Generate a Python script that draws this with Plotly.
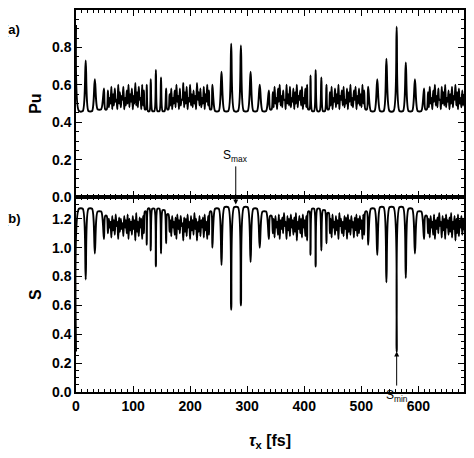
import plotly.graph_objects as go
from plotly.subplots import make_subplots

# revival peaks of Pu (and dips of S); dense parts are the fast oscillation
tau_peaks = [0, 17, 33, 49,
             56, 59, 62, 65, 68, 71, 74, 77, 80, 83, 86, 89, 92, 95, 98, 101, 104, 107, 110, 113, 116, 119,
             124, 131, 140, 149, 158,
             164, 167, 170, 173, 176, 179, 182, 185, 188, 191, 194, 197, 200, 203, 206, 209, 212, 215, 218, 221, 224, 227, 230, 233,
             239, 255, 272, 289, 306, 322, 338,
             345, 348, 351, 354, 357, 360, 363, 366, 369, 372, 375, 378, 381, 384, 387, 390, 393, 396, 399, 402, 405,
             411, 420, 430, 439,
             445, 448, 451, 454, 457, 460, 463, 466, 469, 472, 475, 478, 481, 484, 487, 490, 493, 496, 499, 502, 505,
             512, 528, 544, 562, 578, 594, 610,
             617, 620, 623, 626, 629, 632, 635, 638, 641, 644, 647, 650, 653, 656, 659, 662, 665, 668, 671, 674, 677, 680]

pu_peaks = [0.92, 0.73, 0.63, 0.58,
            0.57, 0.53, 0.59, 0.55, 0.58, 0.52, 0.60, 0.56, 0.54, 0.59, 0.53, 0.57, 0.60, 0.55, 0.58, 0.54, 0.61, 0.56, 0.59, 0.53, 0.60, 0.57,
            0.60, 0.63, 0.68, 0.64, 0.58,
            0.55, 0.58, 0.53, 0.57, 0.60, 0.54, 0.58, 0.52, 0.61, 0.56, 0.59, 0.53, 0.60, 0.55, 0.57, 0.54, 0.61, 0.56, 0.58, 0.53, 0.59, 0.55, 0.60, 0.57,
            0.60, 0.67, 0.82, 0.81, 0.67, 0.60, 0.57,
            0.56, 0.59, 0.53, 0.58, 0.60, 0.54, 0.57, 0.52, 0.60, 0.55, 0.59, 0.53, 0.58, 0.56, 0.60, 0.54, 0.57, 0.59, 0.53, 0.58, 0.60,
            0.65, 0.68, 0.64, 0.60,
            0.56, 0.59, 0.53, 0.58, 0.55, 0.60, 0.54, 0.57, 0.59, 0.52, 0.58, 0.56, 0.60, 0.53, 0.57, 0.59, 0.54, 0.58, 0.55, 0.60, 0.57,
            0.59, 0.63, 0.74, 0.91, 0.72, 0.63, 0.58,
            0.56, 0.59, 0.53, 0.57, 0.60, 0.54, 0.58, 0.52, 0.59, 0.56, 0.60, 0.53, 0.57, 0.55, 0.59, 0.54, 0.60, 0.56, 0.58, 0.53, 0.57, 0.55]

pu_troughs = [0.46, 0.46, 0.47, 0.47,
              0.48, 0.50, 0.47, 0.49, 0.51, 0.47, 0.50, 0.48, 0.52, 0.47, 0.49, 0.50, 0.48, 0.51, 0.47, 0.50, 0.49, 0.48, 0.52, 0.47, 0.49, 0.47,
              0.46, 0.46, 0.46, 0.46, 0.47,
              0.49, 0.47, 0.50, 0.48, 0.51, 0.47, 0.49, 0.52, 0.48, 0.50, 0.47, 0.51, 0.49, 0.48, 0.50, 0.47, 0.52, 0.49, 0.48, 0.50, 0.47, 0.51, 0.49, 0.47,
              0.46, 0.46, 0.46, 0.46, 0.46, 0.46, 0.47,
              0.48, 0.50, 0.47, 0.51, 0.49, 0.48, 0.52, 0.47, 0.50, 0.49, 0.48, 0.51, 0.47, 0.50, 0.48, 0.52, 0.49, 0.47, 0.50, 0.48, 0.47,
              0.46, 0.46, 0.46, 0.47,
              0.49, 0.47, 0.51, 0.48, 0.50, 0.47, 0.52, 0.49, 0.48, 0.50, 0.47, 0.51, 0.49, 0.48, 0.52, 0.47, 0.50, 0.49, 0.48, 0.50, 0.47,
              0.46, 0.46, 0.46, 0.46, 0.46, 0.46, 0.47,
              0.48, 0.50, 0.47, 0.51, 0.49, 0.48, 0.52, 0.47, 0.50, 0.49, 0.48, 0.51, 0.47, 0.50, 0.48, 0.52, 0.49, 0.47, 0.50, 0.48, 0.49, 0.50]

s_dips = [0.28, 0.78, 0.96, 1.06,
          1.10, 1.14, 1.07, 1.12, 1.09, 1.15, 1.06, 1.11, 1.13, 1.08, 1.14, 1.10, 1.06, 1.12, 1.09, 1.13, 1.05, 1.11, 1.08, 1.14, 1.06, 1.10,
          1.02, 0.98, 0.87, 0.96, 1.03,
          1.11, 1.08, 1.14, 1.09, 1.06, 1.13, 1.10, 1.15, 1.05, 1.11, 1.08, 1.14, 1.06, 1.12, 1.09, 1.13, 1.05, 1.11, 1.08, 1.14, 1.07, 1.12, 1.06, 1.09,
          1.00, 0.88, 0.57, 0.60, 0.90, 1.00, 1.06,
          1.10, 1.07, 1.14, 1.09, 1.06, 1.13, 1.10, 1.15, 1.06, 1.12, 1.08, 1.14, 1.09, 1.11, 1.05, 1.13, 1.10, 1.07, 1.14, 1.08, 1.05,
          0.95, 0.87, 0.98, 1.03,
          1.10, 1.07, 1.14, 1.09, 1.12, 1.06, 1.15, 1.10, 1.08, 1.13, 1.06, 1.11, 1.09, 1.14, 1.07, 1.12, 1.08, 1.10, 1.13, 1.06, 1.09,
          1.02, 0.95, 0.76, 0.28, 0.79, 0.96, 1.06,
          1.10, 1.07, 1.14, 1.09, 1.06, 1.13, 1.10, 1.15, 1.07, 1.12, 1.06, 1.14, 1.09, 1.11, 1.07, 1.13, 1.05, 1.10, 1.08, 1.14, 1.09, 1.12]

s_tops = [1.27, 1.27, 1.25, 1.22,
          1.20, 1.18, 1.22, 1.19, 1.23, 1.18, 1.21, 1.20, 1.17, 1.22, 1.19, 1.23, 1.20, 1.18, 1.22, 1.19, 1.24, 1.18, 1.21, 1.20, 1.22, 1.25,
          1.27, 1.27, 1.27, 1.26, 1.23,
          1.19, 1.22, 1.18, 1.21, 1.23, 1.19, 1.22, 1.17, 1.21, 1.20, 1.23, 1.18, 1.22, 1.19, 1.24, 1.20, 1.18, 1.22, 1.19, 1.21, 1.23, 1.18, 1.22, 1.25,
          1.27, 1.28, 1.28, 1.28, 1.27, 1.25, 1.22,
          1.20, 1.22, 1.18, 1.23, 1.19, 1.21, 1.24, 1.18, 1.22, 1.20, 1.23, 1.19, 1.21, 1.24, 1.18, 1.22, 1.20, 1.23, 1.19, 1.22, 1.25,
          1.27, 1.27, 1.26, 1.24,
          1.20, 1.23, 1.18, 1.22, 1.19, 1.24, 1.20, 1.18, 1.22, 1.21, 1.23, 1.19, 1.22, 1.18, 1.21, 1.23, 1.20, 1.22, 1.19, 1.23, 1.25,
          1.27, 1.28, 1.28, 1.28, 1.27, 1.25, 1.22,
          1.20, 1.22, 1.18, 1.23, 1.19, 1.21, 1.24, 1.18, 1.22, 1.20, 1.23, 1.19, 1.21, 1.24, 1.18, 1.22, 1.20, 1.23, 1.19, 1.22, 1.20, 1.21]


def interleave(t, hi, lo):
    # each extremum, then a flat stretch (two points) before the next one
    xs, ys = [], []
    for i in range(len(t)):
        xs.append(t[i]); ys.append(hi[i])
        if i + 1 < len(t):
            gap = t[i + 1] - t[i]
            if gap > 4:
                xs += [t[i] + gap * 0.3, t[i] + gap * 0.7]; ys += [lo[i], lo[i]]
            else:
                xs.append(t[i] + gap / 2); ys.append(lo[i])
    return xs, ys


fig = make_subplots(rows=2, cols=1, shared_xaxes=True, vertical_spacing=0,
                    row_heights=[0.49, 0.51])

x_pu, y_pu = interleave(tau_peaks, pu_peaks, pu_troughs)
x_s, y_s = interleave(tau_peaks, s_dips, s_tops)
fig.add_trace(go.Scatter(x=x_pu, y=y_pu, mode='lines', line=dict(color='black', width=2, shape='spline', smoothing=0.7)), row=1, col=1)
fig.add_trace(go.Scatter(x=x_s, y=y_s, mode='lines', line=dict(color='black', width=2, shape='spline', smoothing=0.7)), row=2, col=1)

tick_font = dict(family='Liberation Sans, Arial', size=14, color='black', weight='bold')
title_font = dict(family='Liberation Sans, Arial', size=16, color='black')
axis_common = dict(showline=True, linecolor='black', linewidth=1.5, mirror='ticks', ticks='inside',
                   ticklen=6, tickwidth=1.2, tickcolor='black', showgrid=False, zeroline=False,
                   tickfont=tick_font)

fig.update_xaxes(range=[0, 680], dtick=100, minor=dict(dtick=10, ticks='inside', ticklen=3, tickcolor='black'), **axis_common)
fig.update_xaxes(showticklabels=False, row=1, col=1)
fig.update_xaxes(title=dict(text='<b><i>τ</i><sub>x</sub> [fs]</b>', font=title_font, standoff=22), row=2, col=1)
fig.update_yaxes(range=[0, 1.0], dtick=0.2, tickformat='.1f', minor=dict(dtick=0.05, ticks='inside', ticklen=3, tickcolor='black'),
                 title=dict(text='<b>Pu</b>', font=title_font, standoff=6), row=1, col=1, **axis_common)
fig.update_yaxes(range=[0, 1.35], tickvals=[0, 0.2, 0.4, 0.6, 0.8, 1.0, 1.2], tickformat='.1f',
                 minor=dict(dtick=0.05, ticks='inside', ticklen=3, tickcolor='black'),
                 title=dict(text='<b>S</b>', font=title_font, standoff=6), row=2, col=1, **axis_common)

fig.add_annotation(text='<b>(a)</b>', x=-0.19, y=0.975, xref='paper', yref='paper', showarrow=False,
                   font=dict(family='Liberation Sans, Arial', size=13, color='black'))
fig.add_annotation(text='<b>(b)</b>', x=-0.19, y=0.455, xref='paper', yref='paper', showarrow=False,
                   font=dict(family='Liberation Sans, Arial', size=13, color='black'))
fig.add_annotation(text='S<sub>max</sub>', x=280, y=1.3, xref='x2', yref='y2', ax=0, ay=-38,
                   arrowhead=2, arrowsize=1, arrowwidth=1, arrowcolor='black',
                   font=dict(family='Liberation Sans, Arial', size=12, color='black'), yanchor='bottom')
fig.add_annotation(text='S<sub>min</sub>', x=562, y=0.28, xref='x2', yref='y2', ax=0, ay=34,
                   arrowhead=2, arrowsize=1, arrowwidth=1, arrowcolor='black',
                   font=dict(family='Liberation Sans, Arial', size=12, color='black'), yanchor='top')

fig.update_layout(width=474, height=458, margin=dict(l=68, r=18, t=0, b=74),
                  showlegend=False, plot_bgcolor='white', paper_bgcolor='white',
                  font=dict(family='Liberation Sans, Arial', color='black'))
fig.write_html("out.html")
